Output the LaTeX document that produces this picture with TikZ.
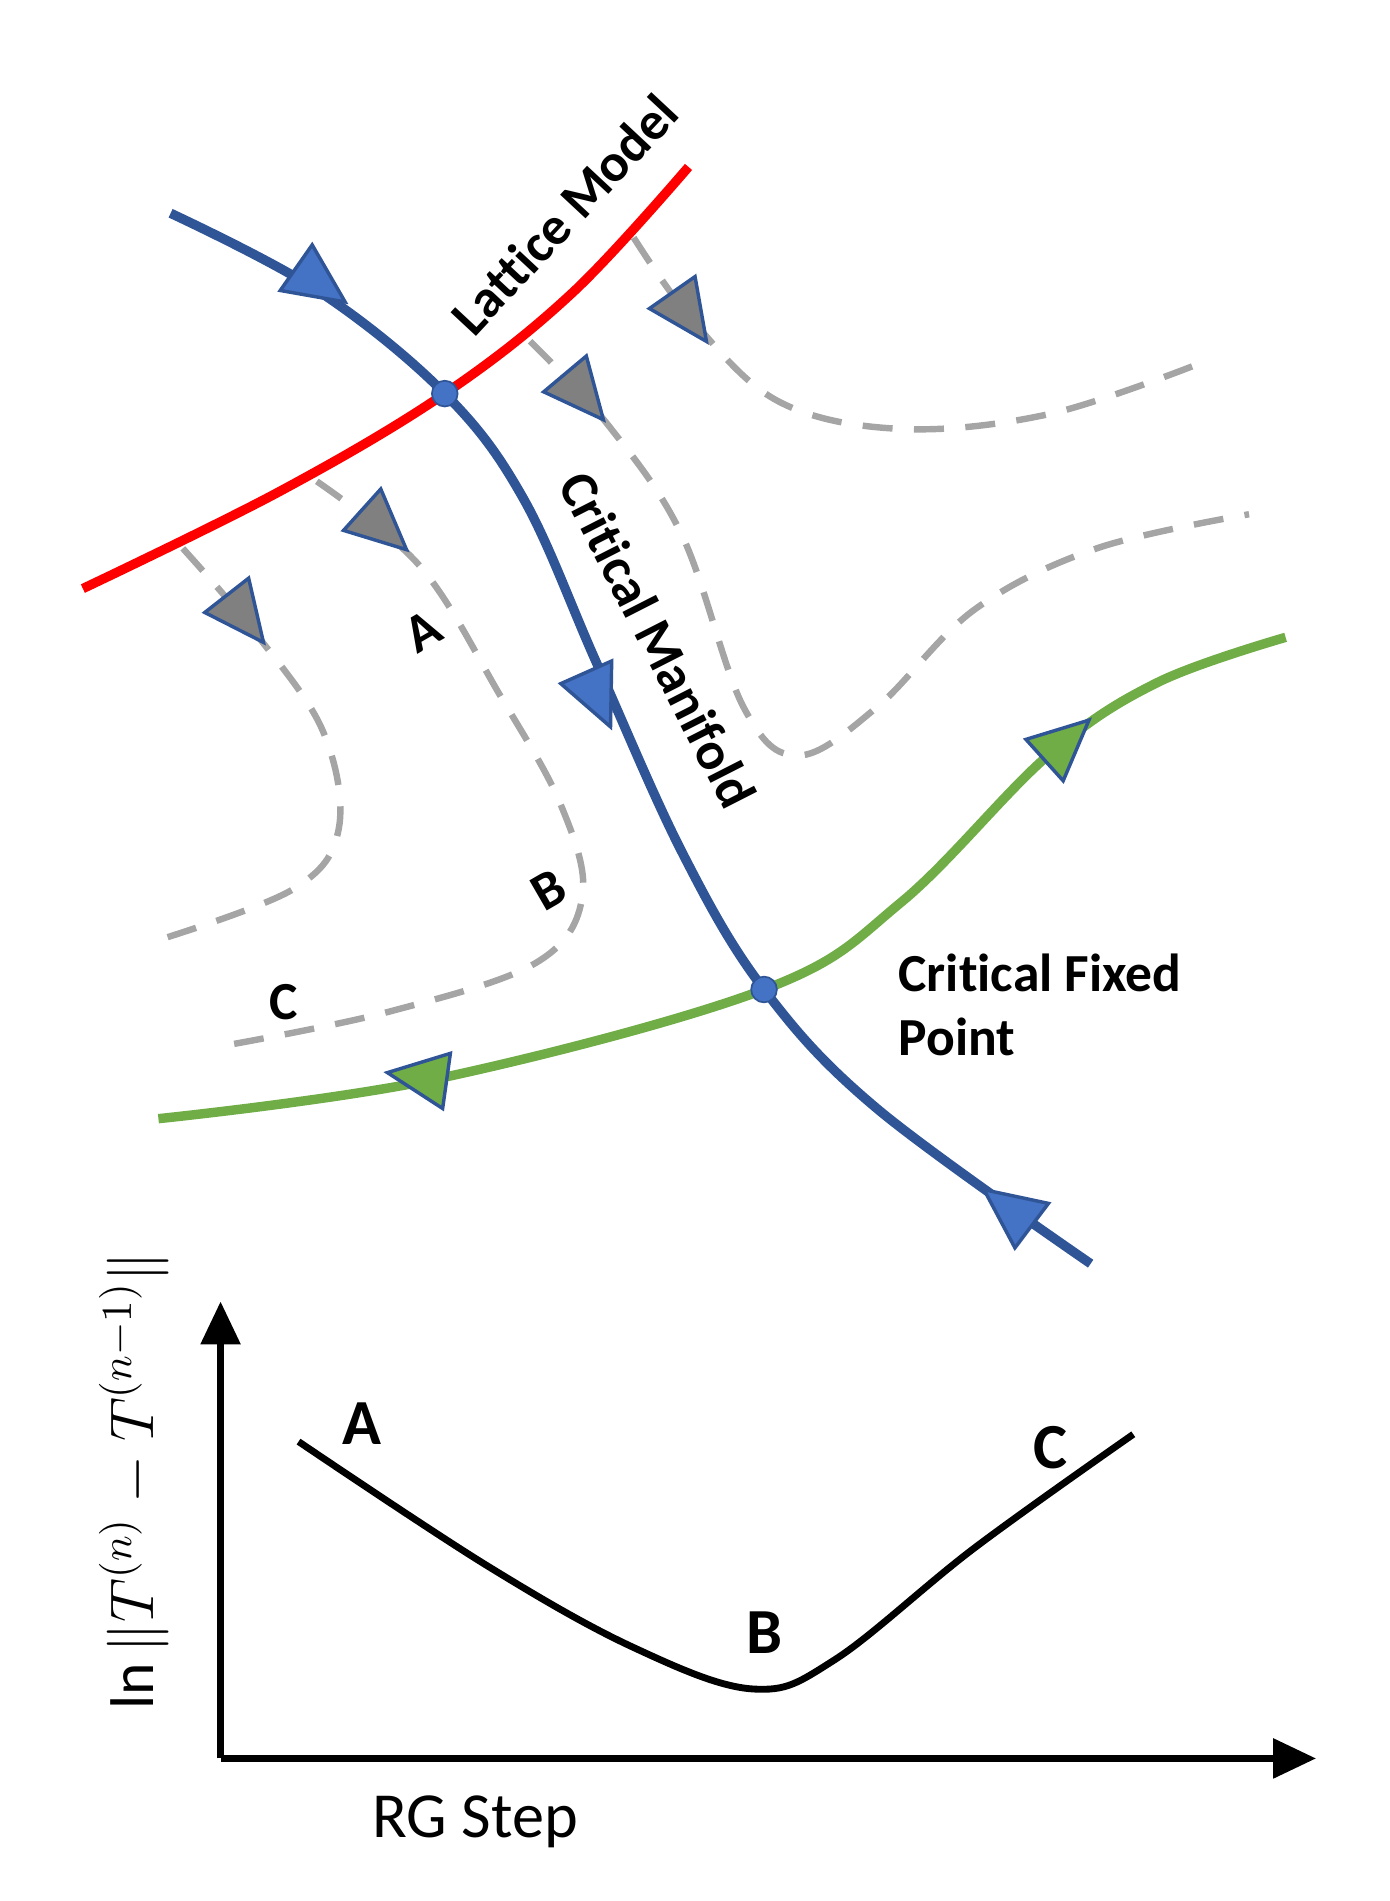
\documentclass[tikz,border=0pt]{standalone}
\usepackage{fontspec}
\setmainfont[Ligatures={NoCommon}]{Carlito}
\usetikzlibrary{arrows.meta, shapes.geometric}
\definecolor{flowblue}{RGB}{47,85,151}
\definecolor{tipblue}{RGB}{68,114,196}
\definecolor{flowgreen}{RGB}{112,173,71}
\definecolor{flowgray}{RGB}{165,165,165}
\tikzset{
  tri/.style 2 args={isosceles triangle, isosceles triangle apex angle=50, inner sep=0pt,
    minimum size=13pt, fill=#1, draw=flowblue, line width=0.8pt, rotate=#2},
  manifold/.style={flowblue, line width=2.2pt},
  lattice/.style={red, line width=2.2pt},
  relevant/.style={flowgreen, line width=2.2pt},
  flow/.style={flowgray, line width=1.5pt, dash pattern=on 7pt off 5pt},
  label/.style={font=\bfseries\fontsize{12.5}{15}\selectfont},
  fixpt/.style={circle, fill=tipblue, draw=flowblue, inner sep=0pt, minimum size=6pt}
}
\begin{document}
\begin{tikzpicture}[x=0.01cm, y=-0.01cm]
  \useasboundingbox (0,0) rectangle (1140,1560);
  % flow diagram
  \coordinate (cfp) at (627,812);
  \coordinate (lat) at (365,323);
  \draw[lattice] plot[smooth, tension=0.6] coordinates {(68,483) (230,403) (365,323) (470,240) (565,137)};
  \draw[manifold]
    plot[smooth, tension=0.6] coordinates {(140,175) (260,238) (365,323) (430,410) (490,545) (560,700) (627,812) (720,910) (895,1037)};
  \draw[relevant]
    plot[smooth, tension=0.6] coordinates {(130,918) (360,885) (627,812) (740,740) (860,620) (950,560) (1055,523)};
  \draw[flow]
    plot[smooth, tension=0.6] coordinates {(520,195) (570,265) (640,330) (740,352) (860,340) (980,300)};
  \draw[flow]
    plot[smooth, tension=0.6] coordinates {(435,280) (500,350) (560,440) (610,580) (655,620) (720,580) (800,500) (900,450) (1025,422)};
  \draw[flow]
    plot[smooth, tension=0.6] coordinates {(260,395) (345,465) (410,570) (460,660) (478,735) (440,790) (320,830) (190,857)};
  \draw[flow]
    plot[smooth, tension=0.6] coordinates {(150,450) (210,520) (265,600) (278,680) (240,730) (125,773)};
  % flow arrows
  \node[tri={tipblue}{-35}] (m1) at (255,228) {};
  \node[tri={tipblue}{-66}] (m2) at (487,565) {};
  \node[tri={tipblue}{143}] (m3) at (835,997) {};
  \node[tri={flowgreen}{172}] (r1) at (352,885) {};
  \node[tri={flowgreen}{42}] (r2) at (868,614) {};
  \node[tri={gray}{-55}] (g1) at (560,252) {};
  \node[tri={gray}{-50}] (g2) at (473,318) {};
  \node[tri={gray}{-42}] (g3) at (308,428) {};
  \node[tri={gray}{-52}] (g4) at (195,500) {};
  \node[fixpt] (latpt) at (lat) {};
  \node[fixpt] (cfpt) at (cfp) {};
  \node[label, rotate=47] (latname) at (463,176) {Lattice Model};
  \node[label, rotate=-63] (cmname) at (540,525) {Critical Manifold};
  \node[label, anchor=north west, align=left] (cfpname) at (725,770) {Critical Fixed\\Point};
  \node[label, rotate=30] (la) at (347,518) {A};
  \node[label, rotate=30] (lb) at (450,730) {B};
  \node[label] (lc) at (233,822) {C};
  % RG plot
  \coordinate (origin) at (181,1443);
  \coordinate (ytop) at (181,1068);
  \coordinate (xend) at (1080,1443);
  \draw[line width=1.6pt, -{Triangle[length=10pt,width=9pt]}] (origin) -- (ytop);
  \draw[line width=1.6pt, -{Triangle[length=10pt,width=9pt]}] (origin) -- (xend);
  \draw[line width=1.6pt] plot[smooth, tension=0.6] coordinates {(245,1183) (400,1285) (520,1352) (618,1386) (685,1362) (800,1270) (930,1177)};
  \node[font=\bfseries\fontsize{15}{18}\selectfont] (pa) at (297,1168) {A};
  \node[font=\bfseries\fontsize{15}{18}\selectfont] (pb) at (627,1340) {B};
  \node[font=\bfseries\fontsize{15}{18}\selectfont] (pc) at (862,1188) {C};
  \node[font=\fontsize{15}{18}\selectfont] (xname) at (390,1495) {RG Step};
  \node[rotate=90, font=\Large] (yname) at (110,1215) {$\ln\Vert T^{(n)}-T^{(n-1)}\Vert$};
\end{tikzpicture}
\end{document}
